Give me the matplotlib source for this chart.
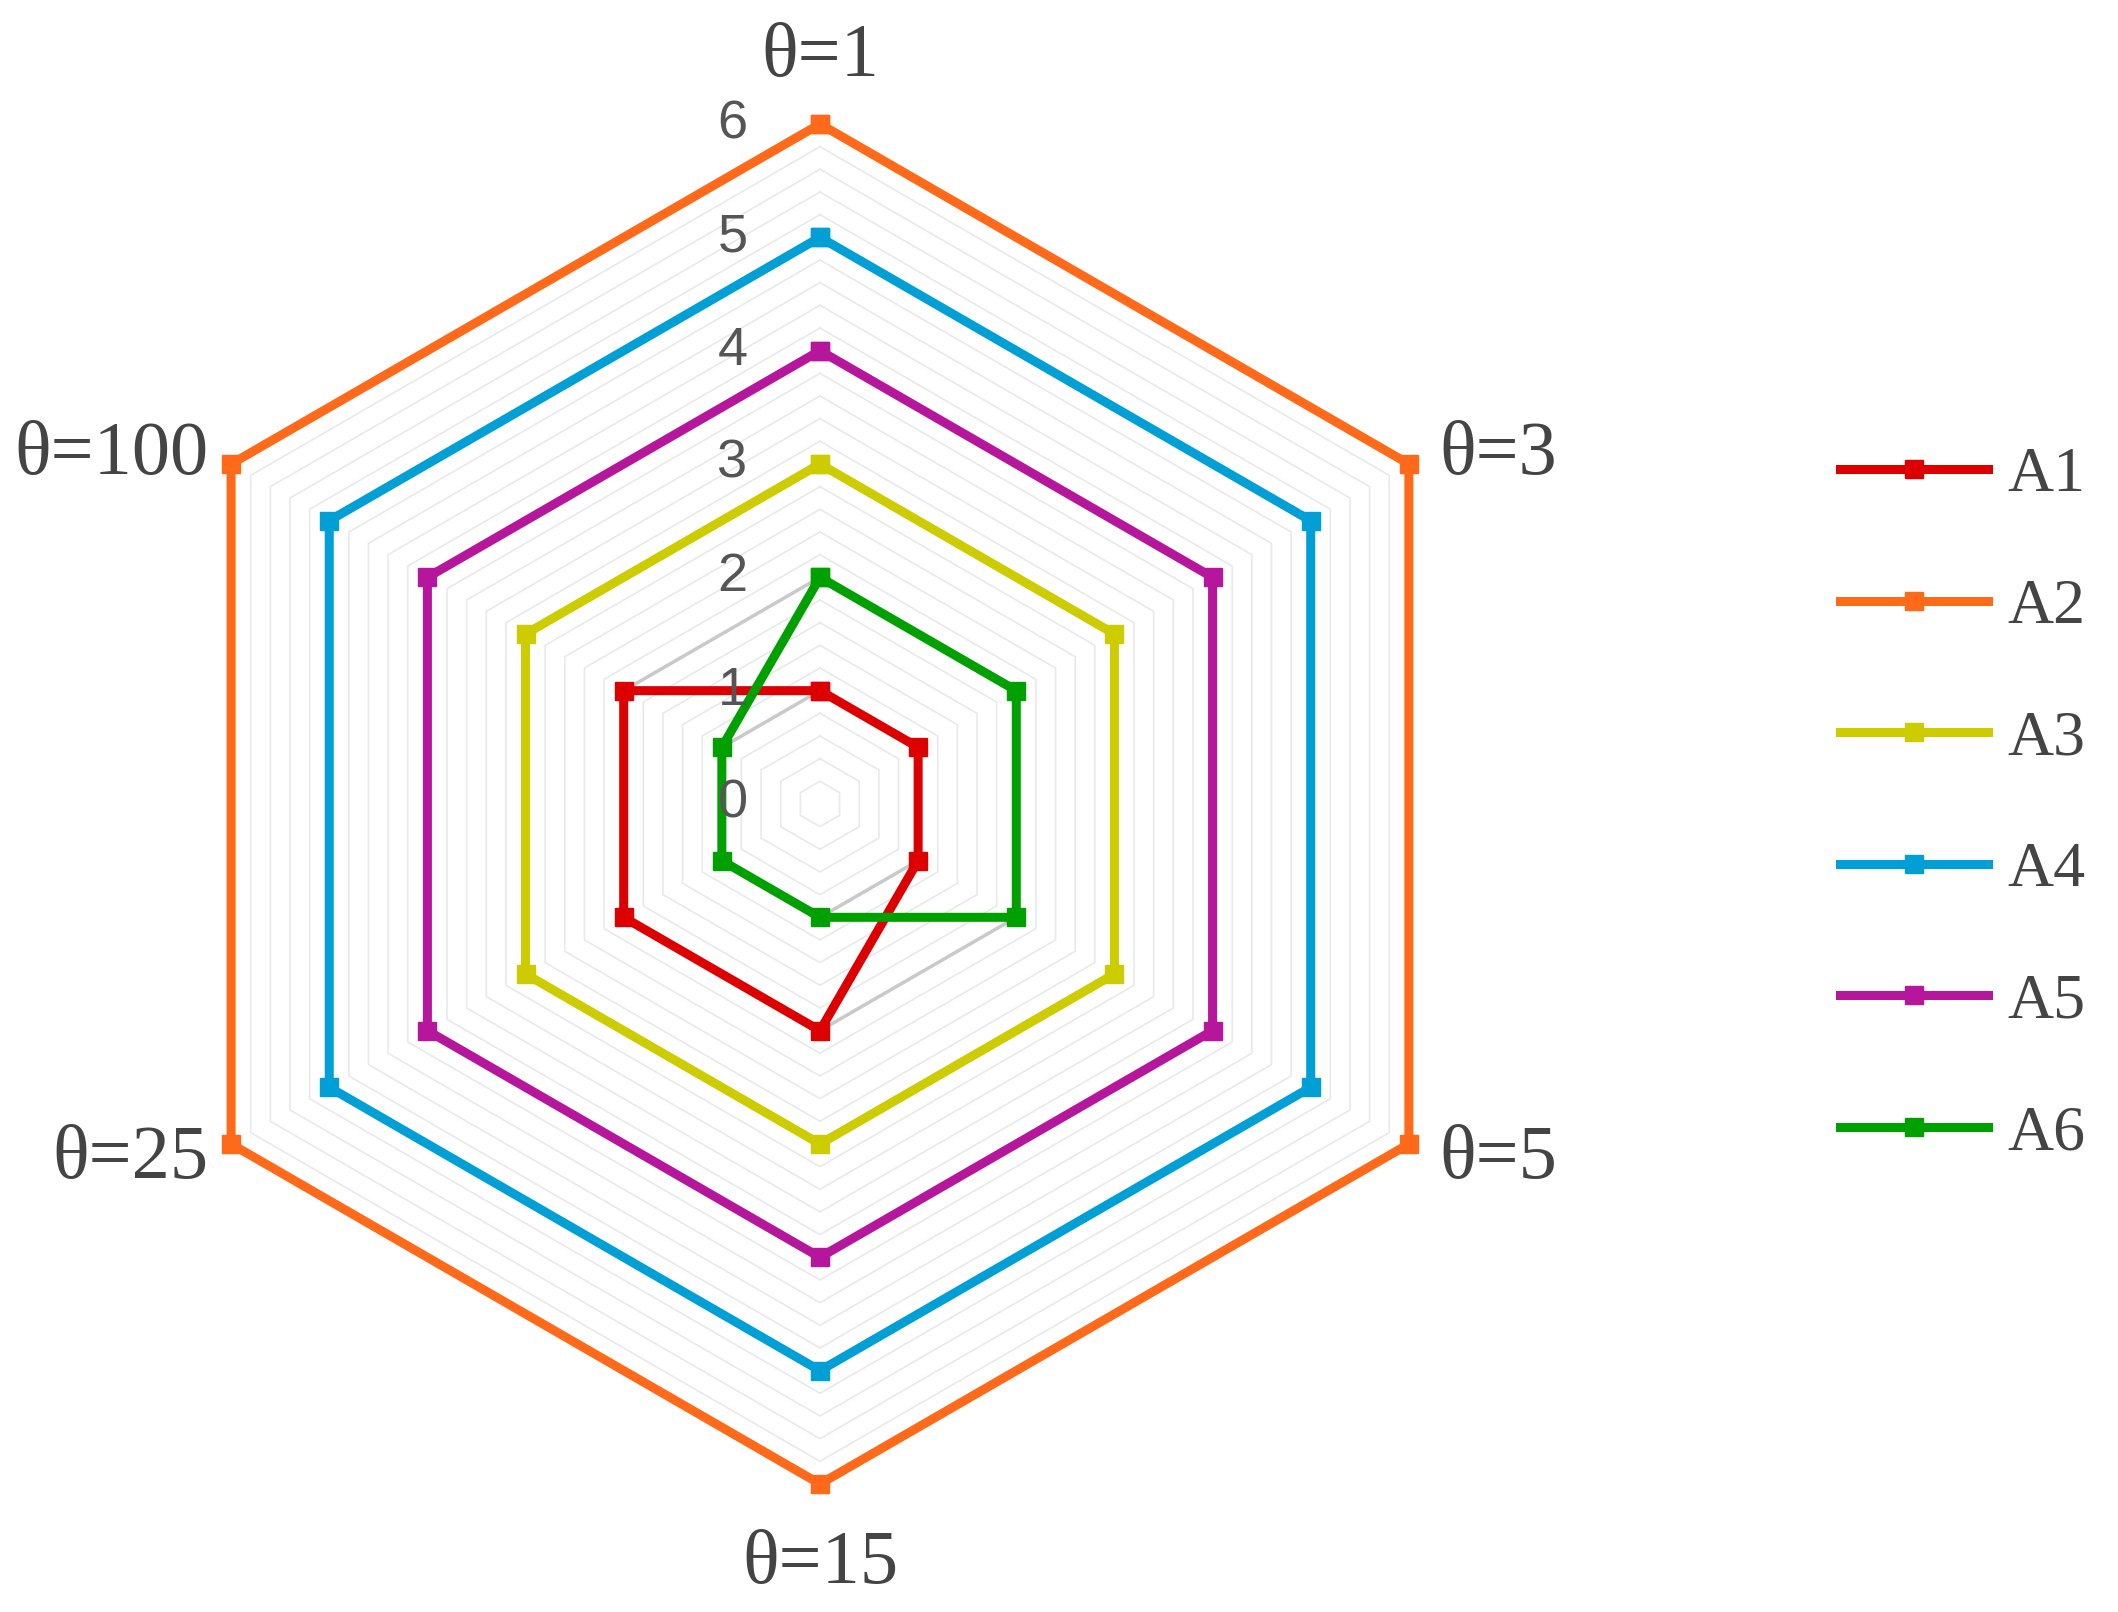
import numpy as np
import matplotlib
matplotlib.use("Agg")
import matplotlib.pyplot as plt

# categories (clockwise from top) and series values
categories = ["θ=1", "θ=3", "θ=5", "θ=15", "θ=25", "θ=100"]
series = ["A1", "A2", "A3", "A4", "A5", "A6"]
A1 = [1, 1, 1, 2, 2, 2]
A2 = [6, 6, 6, 6, 6, 6]
A3 = [3, 3, 3, 3, 3, 3]
A4 = [5, 5, 5, 5, 5, 5]
A5 = [4, 4, 4, 4, 4, 4]
A6 = [2, 2, 2, 1, 1, 1]
values = [A1, A2, A3, A4, A5, A6]
colors = ["#dd0000", "#ff6a1a", "#cccc00", "#009fd6", "#b5169b", "#00a000"]
radial_ticks = [0, 1, 2, 3, 4, 5, 6]

n = len(categories)
angles = np.linspace(0, 2 * np.pi, n, endpoint=False)
ang_closed = np.append(angles, angles[0])

fig = plt.figure(figsize=(21.18, 16.12), dpi=100)
ax = fig.add_axes([0.0661, 0.0794, 0.6421, 0.8437], projection="polar")
ax.set_theta_zero_location("N")
ax.set_theta_direction(-1)
ax.set_ylim(0, 6)
ax.set_axis_off()

# hexagonal split lines every 0.2
for r in np.arange(0.2, 6.01, 0.2):
    ax.plot(ang_closed, [r] * (n + 1), color="#e9e9e9", lw=1.2, zorder=1,
            clip_on=False)

# darker ring pieces (line shadows) between neighbouring axes
shadow = [(5, 0, 1), (5, 0, 2), (2, 3, 1), (2, 3, 2)]
for i, j, r in shadow:
    ax.plot([angles[i], angles[j] if j else 2 * np.pi], [r, r],
            color="#c9c9c9", lw=2.5, zorder=2)

for name, vals, c in zip(series, values, colors):
    v = vals + vals[:1]
    ax.plot(ang_closed, v, color=c, lw=6.5, marker="s", markersize=13,
            label=name, zorder=3, clip_on=False, solid_joinstyle="miter")

# radial value labels
for t in radial_ticks:
    ax.annotate(str(t), xy=(0, t), xytext=(-63, 0), textcoords="offset points",
                ha="center", va="center", fontsize=39, color="#555555",
                family="Liberation Sans", zorder=4)

# category labels
label_pos = [(0, 48, "center"), (22, 6, "left"), (22, -11, "left"),
             (0, -58, "center"), (-16, -11, "right"), (-16, 6, "right")]
for a, lab, (dx, dy, ha) in zip(angles, categories, label_pos):
    ax.annotate(lab, xy=(a, 6), xytext=(dx, dy), textcoords="offset points",
                ha=ha, va="center", fontsize=55, color="#444444",
                family="Liberation Serif")

leg = fig.legend(loc="center left", bbox_to_anchor=(0.8688, 0.5007),
                 frameon=False, handlelength=2.32, borderpad=0,
                 borderaxespad=0, handletextpad=0.3, labelspacing=1.14,
                 prop={"family": "Liberation Serif", "size": 46})
for t in leg.get_texts():
    t.set_color("#444444")
for h in leg.legend_handles:
    h.set_markersize(13)

fig.savefig("out.png", dpi=100)
